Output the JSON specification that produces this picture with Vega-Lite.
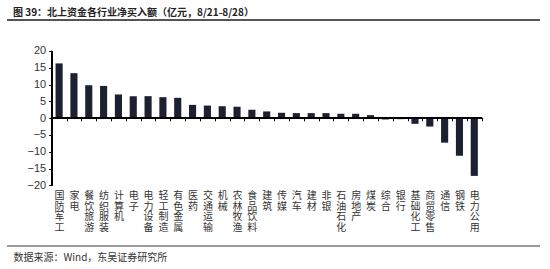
{
  "$schema": "https://vega.github.io/schema/vega-lite/v6.json",
  "width": 533,
  "height": 226,
  "autosize": {"type": "none"},
  "padding": {"left": 7, "right": 10, "top": 20, "bottom": 23},
  "background": "white",
  "title": {
    "text": "图 39：北上资金各行业净买入额（亿元，8/21-8/28）",
    "anchor": "start",
    "frame": "group",
    "dx": 6,
    "offset": -9,
    "baseline": "bottom",
    "font": "Noto Sans CJK SC",
    "fontSize": 10,
    "fontWeight": "bold",
    "color": "#222222"
  },
  "config": {
    "view": {"stroke": null},
    "axisY": {
      "values": [-20, -15, -10, -5, 0, 5, 10, 15, 20],
      "offset": -44.7,
      "domain": false,
      "grid": false,
      "tickSize": 3,
      "tickColor": "#000000",
      "labelFont": "Liberation Sans",
      "labelFontSize": 11,
      "labelColor": "#333333",
      "labelPadding": 3,
      "labelOverlap": false,
      "labelFlush": false,
      "title": null
    }
  },
  "data": {
    "values": [
      {"industry": "国防军工", "value": 16.3},
      {"industry": "家电", "value": 13.4},
      {"industry": "餐饮旅游", "value": 9.8},
      {"industry": "纺织服装", "value": 9.6},
      {"industry": "计算机", "value": 7.05},
      {"industry": "电子", "value": 6.55},
      {"industry": "电力设备", "value": 6.55},
      {"industry": "轻工制造", "value": 6.25},
      {"industry": "有色金属", "value": 6.05},
      {"industry": "医药", "value": 3.95},
      {"industry": "交通运输", "value": 3.75},
      {"industry": "机械", "value": 3.55},
      {"industry": "农林牧渔", "value": 3.4},
      {"industry": "食品饮料", "value": 2.5},
      {"industry": "建筑", "value": 2.0},
      {"industry": "传媒", "value": 1.6},
      {"industry": "汽车", "value": 1.5},
      {"industry": "建材", "value": 1.5},
      {"industry": "非银", "value": 1.5},
      {"industry": "石油石化", "value": 1.3},
      {"industry": "房地产", "value": 1.3},
      {"industry": "煤炭", "value": 0.9},
      {"industry": "综合", "value": -0.4},
      {"industry": "银行", "value": -0.3},
      {"industry": "基础化工", "value": -1.7},
      {"industry": "商贸零售", "value": -2.5},
      {"industry": "通信", "value": -7.3},
      {"industry": "钢铁", "value": -11.2},
      {"industry": "电力公用", "value": -17.2}
    ]
  },
  "layer": [
    {
      "mark": {"type": "bar", "color": "#1d2030", "width": {"band": 0.48}},
      "encoding": {
        "x": {
          "field": "industry",
          "type": "nominal",
          "sort": null,
          "scale": {"paddingInner": 0, "paddingOuter": 0, "range": [44.7, 474.7]},
          "axis": {
            "orient": "bottom",
            "offset": -128.7,
            "domain": false,
            "ticks": true,
            "tickBand": "extent",
            "tickSize": 3.5,
            "tickColor": "#000000",
            "tickWidth": 1,
            "labelAngle": 0,
            "labelExpr": "split(datum.label, '')",
            "labelPadding": 70,
            "labelBaseline": "top",
            "labelLineHeight": 10.5,
            "labelFont": "Noto Sans CJK SC",
            "labelFontSize": 10,
            "labelColor": "#333333",
            "labelOverlap": false,
            "title": "数据来源：Wind，东吴证券研究所",
            "titleFont": "Noto Sans CJK SC",
            "titleFontSize": 10,
            "titleFontWeight": "normal",
            "titleColor": "#333333",
            "titleAnchor": "start",
            "titleAlign": "left",
            "titleBaseline": "middle",
            "titleX": 6,
            "titleY": 140
          }
        },
        "y": {
          "field": "value",
          "type": "quantitative",
          "scale": {"domain": [-38.08, 29.23], "nice": false, "zero": false},
          "axis": {"values": [-20, -15, -10, -5, 0, 5, 10, 15, 20], "labelOverlap": false, "title": null}
        }
      }
    },
    {
      "mark": {"type": "rule", "color": "#000000", "strokeWidth": 1},
      "encoding": {
        "x": {"datum": "国防军工", "type": "nominal", "bandPosition": 0},
        "y": {"datum": -20, "type": "quantitative", "axis": {"values": [-20, -15, -10, -5, 0, 5, 10, 15, 20], "labelOverlap": false, "title": null}},
        "y2": {"datum": 20}
      }
    },
    {
      "mark": {"type": "rule", "color": "#000000", "strokeWidth": 1},
      "encoding": {
        "x": {"datum": "国防军工", "type": "nominal", "bandPosition": 0},
        "x2": {"datum": "电力公用", "bandPosition": 1},
        "y": {"datum": 0, "type": "quantitative", "axis": {"values": [-20, -15, -10, -5, 0, 5, 10, 15, 20], "labelOverlap": false, "title": null}}
      }
    },
    {
      "mark": {"type": "rule", "color": "#555555", "strokeWidth": 2},
      "encoding": {"y": {"datum": 29.23, "type": "quantitative", "axis": {"values": [-20, -15, -10, -5, 0, 5, 10, 15, 20], "labelOverlap": false, "title": null}}}
    },
    {
      "mark": {"type": "rule", "color": "#9a9a9a", "strokeWidth": 1.5},
      "encoding": {"y": {"datum": -38.08, "type": "quantitative", "axis": {"values": [-20, -15, -10, -5, 0, 5, 10, 15, 20], "labelOverlap": false, "title": null}}}
    }
  ]
}
